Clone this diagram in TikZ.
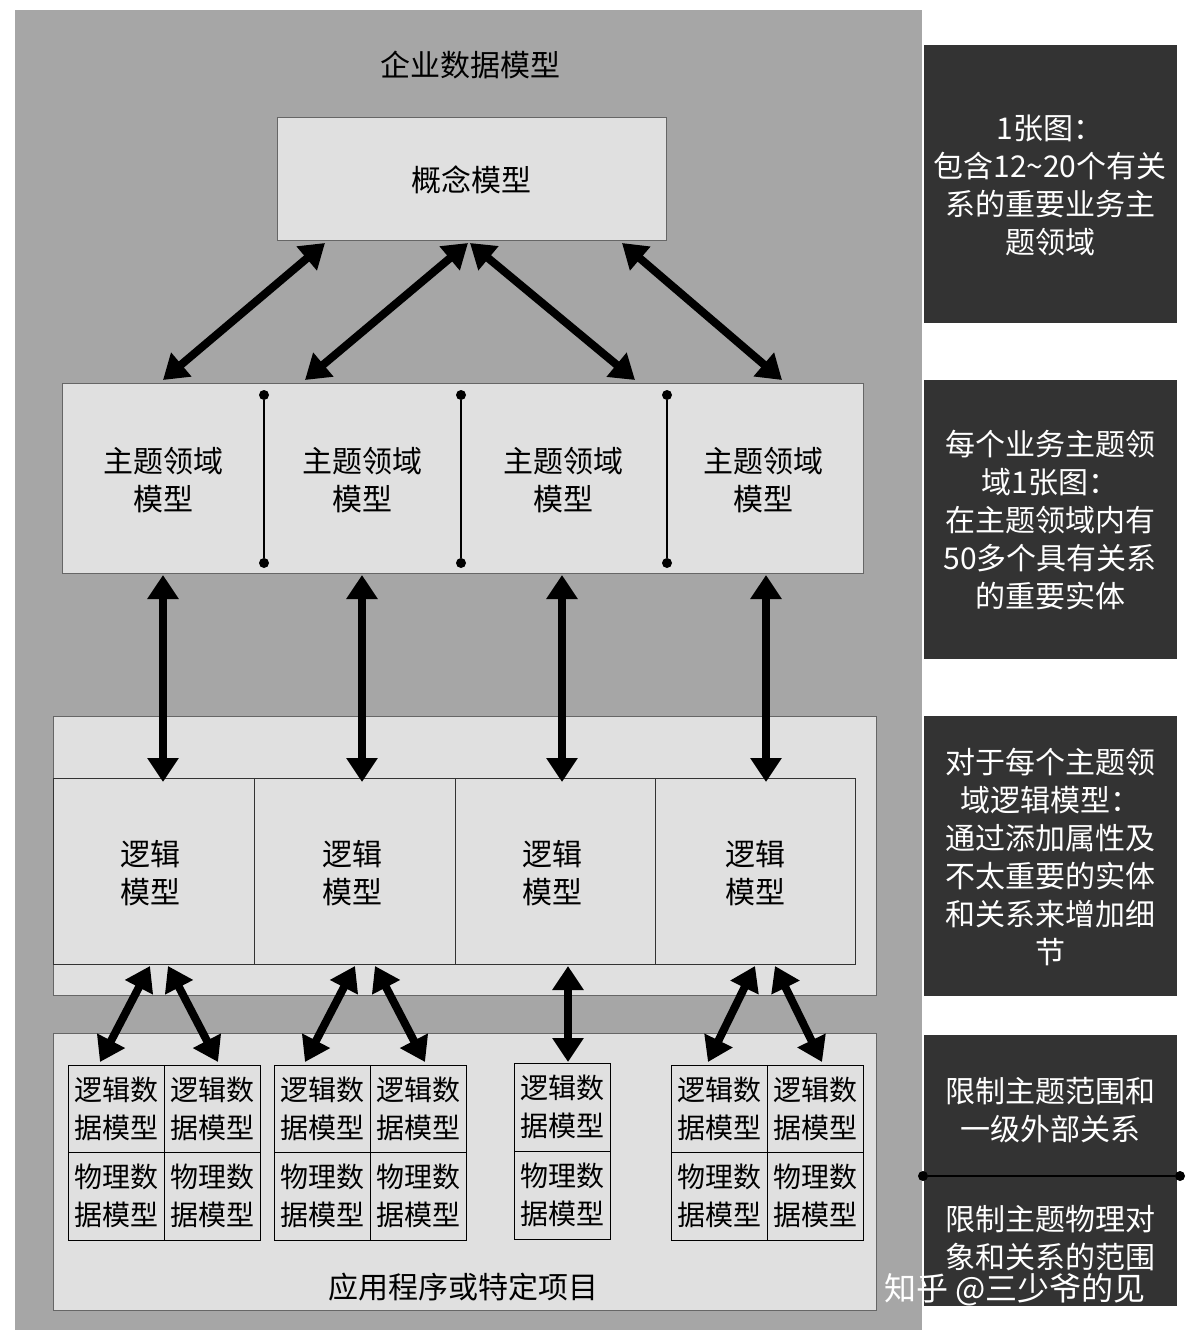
\documentclass[tikz,border=0pt]{standalone}
\usepackage{fontspec}
\setmainfont{Noto Sans CJK SC}
\usetikzlibrary{arrows.meta}
\begin{document}
\begin{tikzpicture}[x=0.5pt,y=-0.5pt,
 band/.style={draw=black!60,fill=black!12},
 lbl/.style={align=center,font=\fontsize{15}{19}\selectfont},
 cell/.style={draw=black,fill=black!12,minimum width=48pt,minimum height=44pt,inner sep=0pt,align=center,font=\fontsize{14}{19}\selectfont},
 dark/.style={fill=black!80,draw=black!80},
 wt/.style={align=center,text=white,font=\fontsize{15}{19}\selectfont},
 dbl/.style={line width=4pt,{Triangle[length=12pt,width=15pt]}-{Triangle[length=12pt,width=15pt]}},
 sep/.style={line width=1.2pt},
 dotc/.style={circle,fill=black,inner sep=0pt,minimum size=5pt}]
\useasboundingbox (0,0) rectangle (1191,1338);
\fill[white] (0,0) rectangle (1191,1338);
\fill[black!35] (15,10) rectangle (922,1330);
\node[lbl] (title) at (470,65) {企业数据模型};
\draw[band] (277,117) rectangle (666,240);
\node[lbl] (concept) at (471,180) {概念模型};
\draw[band] (62,383) rectangle (863,573);
\foreach \x/\n in {264/a,461/b,667/c}{
 \node[dotc] (t\n) at (\x,395) {}; \node[dotc] (b\n) at (\x,563) {};
 \draw[sep] (t\n) -- (b\n);}
\foreach \x/\n in {163/1,362/2,563/3,763/4}
 \node[lbl] (s\n) at (\x,480) {主题领域\\模型};
\draw[band] (53,716) rectangle (876,995);
\foreach \a/\b in {53/254,254/455,455/655,655/855}
 \draw[black!80] (\a,778) rectangle (\b,964);
\foreach \x/\n in {150/1,352/2,552/3,755/4}
 \node[lbl] (l\n) at (\x,873) {逻辑\\模型};
\draw[band] (53,1033) rectangle (876,1310);
\node[lbl] (app) at (463,1287) {应用程序或特定项目};
\foreach \x/\n in {116/a,212/b,322/c,418/d,719/g,815/h}{
 \node[cell] (u\n) at (\x,1109) {逻辑数\\据模型};
 \node[cell] (p\n) at (\x,1196) {物理数\\据模型};}
\node[cell] (ue) at (562,1107) {逻辑数\\据模型};
\node[cell] (pe) at (562,1195) {物理数\\据模型};
\foreach \i/\a/\b/\c/\d in {1/325/243/163/380,2/468/243/305/380,3/470/243/635/380,4/622/243/782/380,
 5/163/575/163/782,6/362/575/362/782,7/562/575/562/782,8/766/575/766/782,
 9/150/966/100/1062,10/168/966/218/1062,11/355/966/305/1062,12/375/966/425/1062,
 13/568/966/568/1062,14/755/966/708/1062,15/775/966/822/1062}{
 \coordinate (ea\i) at (\a,\b); \coordinate (eb\i) at (\c,\d);
 \draw[dbl] (ea\i) -- (eb\i);}
\draw[dark] (924,45) rectangle (1176,322);
\node[wt] (r1) at (1050,185) {1张图：\\包含12\textasciitilde20个有关\\系的重要业务主\\题领域};
\draw[dark] (924,380) rectangle (1176,658);
\node[wt] (r2) at (1050,520) {每个业务主题领\\域1张图：\\在主题领域内有\\50多个具有关系\\的重要实体};
\draw[dark] (924,716) rectangle (1176,995);
\node[wt] (r3) at (1050,857) {对于每个主题领\\域逻辑模型：\\通过添加属性及\\不太重要的实体\\和关系来增加细\\节};
\draw[dark] (924,1035) rectangle (1176,1305);
\node[wt] (r4) at (1050,1110) {限制主题范围和\\一级外部关系};
\node[wt] (r5) at (1050,1238) {限制主题物理对\\象和关系的范围};
\node[dotc] (dl) at (923,1176) {}; \node[dotc] (dr) at (1180,1176) {};
\draw[sep] (dl) -- (dr);
\node[text=white,font=\fontsize{16}{19}\selectfont] (wm) at (1015,1290) {知乎 @三少爷的见};
\end{tikzpicture}
\end{document}
